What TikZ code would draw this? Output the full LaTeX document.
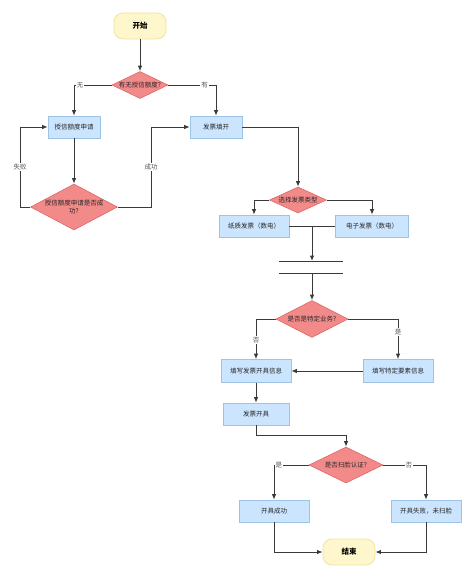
\documentclass[tikz,border=0pt]{standalone}
\usepackage{fontspec}
\setmainfont{Noto Sans CJK SC}
\usetikzlibrary{shapes.geometric,arrows.meta,positioning}
\definecolor{termfill}{HTML}{FFF7CC}
\definecolor{termdraw}{HTML}{F2E2A0}
\definecolor{decfill}{HTML}{F28A8A}
\definecolor{decdraw}{HTML}{E06666}
\definecolor{boxfill}{HTML}{CCE5FF}
\definecolor{boxdraw}{HTML}{9DC3E6}
\definecolor{linec}{HTML}{3A3A3A}
\definecolor{labc}{HTML}{555555}
\tikzset{
  term/.style={draw=termdraw,fill=termfill,line width=0.8pt,rounded corners=9pt,minimum width=52pt,minimum height=26pt,font=\fontsize{7.5}{8}\selectfont\bfseries,inner sep=0pt},
  dec/.style={draw=decdraw,fill=decfill,line width=0.6pt,diamond,aspect=2.1,inner sep=0pt,font=\fontsize{6.5}{7.5}\selectfont,text=black!85},
  proc/.style={draw=boxdraw,fill=boxfill,line width=0.6pt,minimum height=22pt,inner sep=0pt,font=\fontsize{6.5}{7.5}\selectfont,text=black!85},
  conn/.style={draw=linec,line width=1pt,-{Latex[length=5.5pt,width=4.5pt]}},
  plain/.style={draw=linec,line width=1pt},
  lab/.style={fill=white,inner sep=1pt,font=\fontsize{6.5}{7.5}\selectfont,text=labc},
  bar/.style={draw=linec,line width=1pt}
}
\begin{document}
\begin{tikzpicture}[x=1pt,y=-1pt]
\useasboundingbox (0,0) rectangle (474,578);
% nodes
\node[term] (start) at (140,26) {开始};
\node[dec,minimum width=56pt,minimum height=27pt] (d1) at (140,85) {有无授信额度?};
\node[proc,minimum width=52pt] (apply) at (74,127) {授信额度申请};
\node[proc,minimum width=52pt] (fill) at (216,127) {发票填开};
\node[dec,minimum width=76pt,minimum height=46pt,align=center] (d2) at (74,207) {授信额度申请是否成\\功?};
\node[dec,minimum width=57pt,minimum height=26pt] (d3) at (298,200) {选择发票类型};
\node[proc,minimum width=70pt] (paper) at (254,226) {纸质发票（数电）};
\node[proc,minimum width=73pt] (elec) at (372,226) {电子发票（数电）};
\coordinate (b1l) at (279,261); \coordinate (b1r) at (343,261);
\coordinate (b2l) at (279,273); \coordinate (b2r) at (343,273);
\coordinate (b1c) at (312,261); \coordinate (b2c) at (312,273);
\coordinate (join) at (312,226);
\node[dec,minimum width=72pt,minimum height=37pt] (d4) at (312,319) {是否是特定业务?};
\node[proc,minimum width=70pt,minimum height=23pt] (info) at (256,371) {填写发票开具信息};
\node[proc,minimum width=70pt,minimum height=23pt] (spec) at (398,371) {填写特定要素信息};
\node[proc,minimum width=66pt] (issue) at (256,414) {发票开具};
\node[dec,minimum width=74pt,minimum height=36pt] (d5) at (346,465) {是否扫脸认证?};
\node[proc,minimum width=70pt] (ok) at (274,511) {开具成功};
\node[proc,minimum width=70pt] (fail) at (426,511) {开具失败，未扫脸};
\node[term] (end) at (349,552) {结束};
% connectors
\draw[conn] (start) -- (d1);
\draw[conn] (d1.west) -| node[lab,pos=0.42] {无} (apply.north);
\draw[conn] (d1.east) -| node[lab,pos=0.38] {有} (fill.north);
\draw[conn] (apply) -- (d2.north);
\draw[conn] (d2.west) -- (20,207) -- node[lab,pos=0.5] {失败} (20,127) -- (apply.west);
\draw[conn] (d2.east) -- (151,207) -- node[lab,pos=0.5] {成功} (151,127) -- (fill.west);
\draw[conn] (fill.east) -| (d3.north);
\draw[conn] (d3.west) -| (paper.north);
\draw[conn] (d3.east) -| (elec.north);
\draw[plain] (paper.east) -- (join);
\draw[plain] (elec.west) -- (join);
\draw[conn] (join) -- (b1c);
\draw[bar] (b1l) -- (b1r);
\draw[bar] (b2l) -- (b2r);
\draw[conn] (b2c) -- (d4.north);
\draw[conn] (d4.west) -| node[lab,pos=0.76] {否} (info.north);
\draw[conn] (d4.east) -| node[lab,pos=0.66] {是} (spec.north);
\draw[conn] (spec.west) -- (info.east);
\draw[conn] (info) -- (issue);
\draw[conn] (issue.south) -- (256,435) -| (d5.north);
\draw[conn] (d5.west) -| node[lab,pos=0.43] {是} (ok.north);
\draw[conn] (d5.east) -| node[lab,pos=0.3] {否} (fail.north);
\draw[conn] (ok.south) |- (end.west);
\draw[conn] (fail.south) |- (end.east);
\end{tikzpicture}
\end{document}
